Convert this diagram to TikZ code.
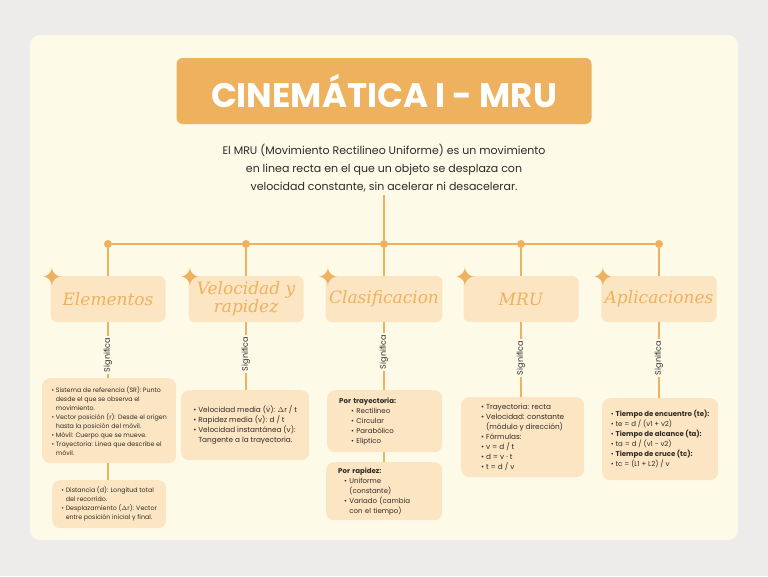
\documentclass[tikz,border=0pt]{standalone}
\usepackage{fontspec}
\setmainfont{Poppins}
\newfontfamily\titlef{Poppins}
\newfontfamily\scriptf{DejaVu Serif}
\newfontfamily\symf{DejaVu Sans}
\definecolor{bg}{HTML}{EDECEA}
\definecolor{card}{HTML}{FEFAE8}
\definecolor{org}{HTML}{EEB25E}
\definecolor{head}{HTML}{FCE5C2}
\definecolor{txt}{HTML}{2E2A26}
\tikzset{
 hbox/.style={fill=head,rounded corners=6pt,minimum width=115pt,minimum height=46pt,text=org,font=\scriptf\itshape\fontsize{17}{16}\selectfont,align=center},
 cbox/.style={fill=head,rounded corners=8pt,anchor=north west,text=txt,font=\fontsize{6.3}{9}\selectfont,align=left,inner xsep=6pt},
 con/.style={draw=org,line width=2pt},
 dot/.style={circle,fill=org,inner sep=0pt,minimum size=8pt},
 sig/.style={rotate=90,font=\fontsize{8}{8}\selectfont,text=txt,fill=card,inner sep=2pt}
}
\newcommand{\bl}{\textbullet\ }
\begin{document}
\begin{tikzpicture}[x=1pt,y=-1pt]
\fill[bg] (0,0) rectangle (768,576);
\fill[card,rounded corners=10pt] (30,35) rectangle (738,540);
\node[fill=org,rounded corners=6pt,minimum width=415pt,minimum height=66pt,text=white,font=\titlef\bfseries\fontsize{34}{34}\selectfont] (title) at (384,91) {CINEMÁTICA I - MRU};
\node[align=center,text=txt,font=\fontsize{11}{18}\selectfont] (desc) at (384,168) {El MRU (Movimiento Rectilineo Uniforme) es un movimiento\\en linea recta en el que un objeto se desplaza con\\velocidad constante, sin acelerar ni desacelerar.};
\coordinate (hub) at (384,244);
\draw[con] (desc.south) -- (hub);
\foreach \n/\x/\t in {e/108/Elementos,v/246/{Velocidad y\\rapidez},c/384/Clasificacion,m/521/MRU,a/659/Aplicaciones}{
 \node[dot] (d\n) at (\x,244) {};
 \node[hbox] (h\n) at (\x,299) {\t};
 \draw[con] (d\n) -- (h\n);
 \node[text=org,font=\symf\fontsize{26}{26}\selectfont] (s\n) at (\x-56,277) {✦};
}
\draw[con] (de) -- (da);
\node[cbox,minimum width=134pt,minimum height=85pt] (e1) at (42,378) {\bl Sistema de referencia (SR): Punto\\\phantom{\bl}desde el que se observa el\\\phantom{\bl}movimiento.\\\bl Vector posición (r): Desde el origen\\\phantom{\bl}hasta la posición del móvil.\\\bl Móvil: Cuerpo que se mueve.\\\bl Trayectoria: Linea que describe el\\\phantom{\bl}móvil.};
\node[cbox,minimum width=114pt,minimum height=48pt] (e2) at (52,480) {\bl Distancia (d): Longitud total\\\phantom{\bl}del recorrido.\\\bl Desplazamiento ($\Delta$r): Vector\\\phantom{\bl}entre posición inicial y final.};
\node[cbox,minimum width=128pt,minimum height=70pt,font=\fontsize{7.3}{10}\selectfont] (v1) at (181,390) {\bl Velocidad media ($\bar{\mathrm{v}}$): $\Delta$r / t\\\bl Rapidez media (v): d / t\\\bl Velocidad instantánea (v):\\\phantom{\bl}Tangente a la trayectoria.};
\node[cbox,text width=103pt,minimum height=62pt,font=\fontsize{7}{10}\selectfont] (c1) at (327,390) {\hspace*{6pt}\textbf{Por trayectoria:}\\\hspace*{18pt}\bl Rectilineo\\\hspace*{18pt}\bl Circular\\\hspace*{18pt}\bl Parabólico\\\hspace*{18pt}\bl Eliptico};
\node[cbox,text width=104pt,minimum height=58pt,font=\fontsize{7}{10}\selectfont] (c2) at (326,462) {\hspace*{6pt}\textbf{Por rapidez:}\\\hspace*{12pt}\bl Uniforme\\\hspace*{12pt}\phantom{\bl}(constante)\\\hspace*{12pt}\bl Variado (cambia\\\hspace*{12pt}\phantom{\bl}con el tiempo)};
\node[cbox,minimum width=123pt,minimum height=80pt,font=\fontsize{7.3}{10}\selectfont] (m1) at (461,397) {\bl Trayectoria: recta\\\bl Velocidad: constante\\\phantom{\bl}(módulo y dirección)\\\bl Fórmulas:\\\bl v = d / t\\\bl d = v · t\\\bl t = d / v};
\node[cbox,minimum width=116pt,minimum height=82pt,font=\fontsize{7}{10}\selectfont,inner xsep=4pt] (a1) at (602,398) {\bl \textbf{Tiempo de encuentro (te):}\\\bl te = d / (v1 + v2)\\\bl \textbf{Tiempo de alcance (ta):}\\\bl ta = d / (v1 - v2)\\\bl \textbf{Tiempo de cruce (tc):}\\\bl tc = (L1 + L2) / v};
\foreach \h/\b/\y in {he/e1/355,hv/v1/354,hc/c1/352,hm/m1/358,ha/a1/358}{
 \draw[con] (\h.south) -- (\b.north -| \h.south);
 \node[sig] (sg\h) at ([yshift=-\y pt]\h.south |- 0,0) {Significa};
}
\draw[con] (e1.south -| he.south) -- (e2.north -| he.south);
\draw[con] (c1.south -| hc.south) -- (c2.north -| hc.south);
\end{tikzpicture}
\end{document}
